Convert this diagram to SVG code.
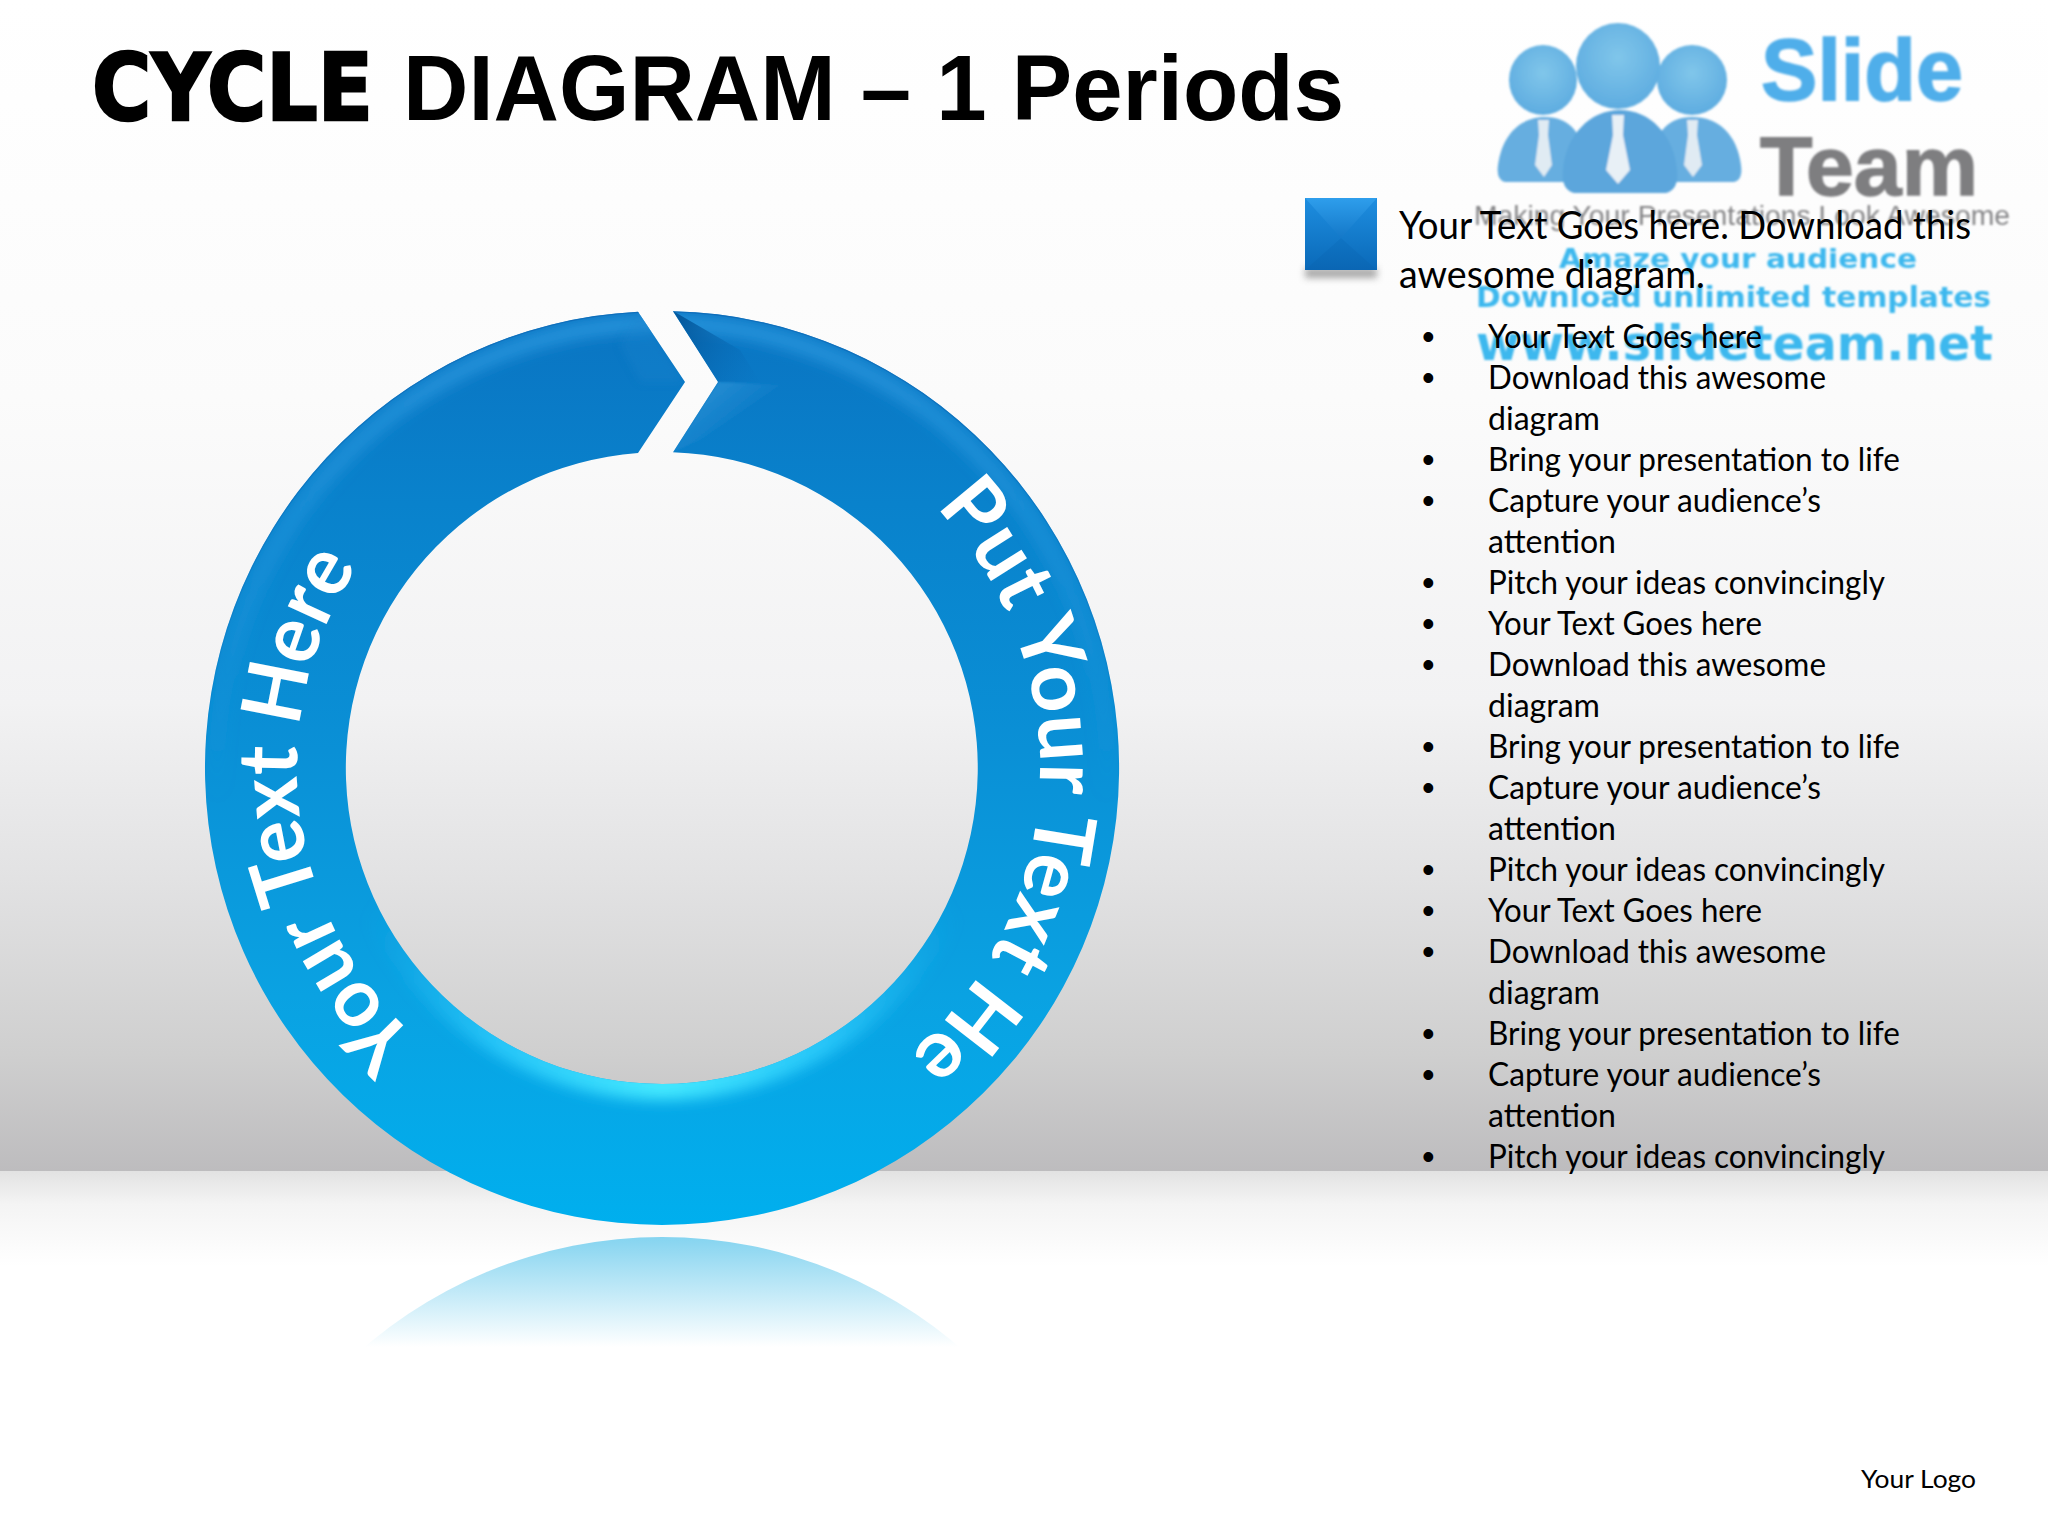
<svg xmlns="http://www.w3.org/2000/svg" width="2048" height="1536" viewBox="0 0 2048 1536">
<style>
.h{font-family:"Lato","Liberation Sans",sans-serif;font-size:38px;fill:#000}
.b{font-family:"Lato","Liberation Sans",sans-serif;font-size:32px;fill:#000}
.d{font-family:"Liberation Sans",sans-serif;font-size:36px;fill:#000}
.t{font-family:"Lato","Liberation Sans",sans-serif;font-weight:700;font-size:83px;fill:#fff}
.w{font-family:"DejaVu Sans",sans-serif;font-weight:700;fill:#3CB8EE}
.g{font-family:"Liberation Sans",sans-serif;fill:#848486}
</style>
<defs>
<linearGradient id="bg" x1="0" y1="0" x2="0" y2="1"><stop offset="0" stop-color="#fff"/><stop offset="0.34" stop-color="#FBFBFB"/><stop offset="0.6" stop-color="#F2F2F3"/><stop offset="0.75" stop-color="#E2E2E3"/><stop offset="0.9" stop-color="#CFCFCF"/><stop offset="1" stop-color="#BDBCBE"/></linearGradient>
<linearGradient id="fl" x1="0" y1="0" x2="0" y2="1"><stop offset="0" stop-color="#E2E2E2"/><stop offset="0.35" stop-color="#F4F4F4"/><stop offset="1" stop-color="#fff"/></linearGradient>
<linearGradient id="ring" gradientUnits="userSpaceOnUse" x1="0" y1="311" x2="0" y2="1225"><stop offset="0" stop-color="#0A74C2"/><stop offset="0.21" stop-color="#0982CC"/><stop offset="0.48" stop-color="#0A90D6"/><stop offset="0.75" stop-color="#0AA2E2"/><stop offset="1" stop-color="#00AFEE"/></linearGradient>
<linearGradient id="refl" gradientUnits="userSpaceOnUse" x1="0" y1="1237" x2="0" y2="1347"><stop offset="0" stop-color="#85D4F0"/><stop offset="1" stop-color="#85D4F0" stop-opacity="0"/></linearGradient>
<linearGradient id="sq" x1="0" y1="0" x2="0" y2="1"><stop offset="0" stop-color="#1E8EE0"/><stop offset="1" stop-color="#0A69B8"/></linearGradient>
<linearGradient id="sqt" x1="0" y1="0" x2="0" y2="1"><stop offset="0" stop-color="#2E9EEC"/><stop offset="1" stop-color="#1478C8"/></linearGradient>
<linearGradient id="sqb" x1="0" y1="0" x2="0" y2="1"><stop offset="0" stop-color="#0F74C4"/><stop offset="1" stop-color="#0A66B4"/></linearGradient>
<linearGradient id="dk" gradientUnits="userSpaceOnUse" x1="680" y1="320" x2="770" y2="370"><stop offset="0" stop-color="#055A9E"/><stop offset="1" stop-color="#0A70BE" stop-opacity="0"/></linearGradient>
<linearGradient id="lt" gradientUnits="userSpaceOnUse" x1="720" y1="390" x2="760" y2="440"><stop offset="0" stop-color="#2A90D4" stop-opacity="0.7"/><stop offset="1" stop-color="#0A78C6" stop-opacity="0"/></linearGradient>
<radialGradient id="glow" gradientUnits="userSpaceOnUse" cx="662" cy="1084" r="340"><stop offset="0" stop-color="#45EAFF"/><stop offset="0.5" stop-color="#30D0FF" stop-opacity="0.75"/><stop offset="1" stop-color="#20B8F0" stop-opacity="0"/></radialGradient>
<linearGradient id="rim" gradientUnits="userSpaceOnUse" x1="0" y1="311" x2="0" y2="800"><stop offset="0" stop-color="#2E9CE2" stop-opacity="0.8"/><stop offset="1" stop-color="#2E9CE2" stop-opacity="0"/></linearGradient>
<linearGradient id="rim2" gradientUnits="userSpaceOnUse" x1="0" y1="311" x2="0" y2="800"><stop offset="0" stop-color="#0A62B0" stop-opacity="0.6"/><stop offset="1" stop-color="#0A62B0" stop-opacity="0"/></linearGradient>
<radialGradient id="hd" cx="0.5" cy="0.4" r="0.6"><stop offset="0" stop-color="#80C6EA"/><stop offset="1" stop-color="#5EACE0"/></radialGradient>
<filter id="bl" x="-20%" y="-20%" width="140%" height="140%"><feGaussianBlur stdDeviation="1.3"/></filter>
<filter id="bl2" x="-20%" y="-20%" width="140%" height="140%"><feGaussianBlur stdDeviation="4"/></filter>
<filter id="bl6" filterUnits="userSpaceOnUse" x="150" y="250" width="1020" height="1030"><feGaussianBlur stdDeviation="7"/></filter>
<filter id="bl3" x="-20%" y="-100%" width="140%" height="300%"><feGaussianBlur stdDeviation="3.5"/></filter>
<clipPath id="rc"><path d="M673,311.13A457,457 0 0 1 662,1225A457,457 0 0 1 638,311.63L685,382L638,452.9A316,316 0 0 0 662,1084A316,316 0 0 0 673,452.2L718,382Z"/></clipPath>
<clipPath id="rf"><circle cx="662" cy="1694" r="457"/></clipPath>
<path id="pl" d="M 417.8 1039.2 A 365 365 0 0 1 374.4 543.3" fill="none"/>
<path id="pr" d="M 935.7 507.3 A 378 378 0 0 1 878.8 1077.6" fill="none"/>
</defs>
<g id="background">
<rect width="2048" height="1171" fill="url(#bg)"/>
<rect y="1171" width="2048" height="95" fill="url(#fl)"/>
<rect y="1266" width="2048" height="270" fill="#fff"/>
</g>
<g id="logo" filter="url(#bl)">
<ellipse cx="1543" cy="80" rx="34" ry="35" fill="url(#hd)"/>
<ellipse cx="1692" cy="80" rx="35" ry="35" fill="url(#hd)"/>
<ellipse cx="1618" cy="66" rx="42" ry="43" fill="url(#hd)"/>
<path d="M1505,182Q1496,180 1498,165C1502,135 1520,117 1545,117C1570,117 1585,135 1585,165L1585,182Z" fill="#66AEE0"/>
<path d="M1734,182Q1743,180 1741,165C1737,135 1719,117 1692,117C1667,117 1652,135 1652,165L1652,182Z" fill="#66AEE0"/>
<path d="M1574,193Q1561,190 1563,170C1566,135 1590,110 1620,110C1650,110 1674,135 1677,170Q1679,190 1666,193Z" fill="#5CA6DC"/>
<path d="M1612,115H1624L1623,135L1630,170L1618,184L1606,170L1613,135Z" fill="#E8F0F6"/>
<path d="M1538,120H1549L1548,135L1552,165L1544,177L1535,165L1539,135Z" fill="#E0EBF3"/>
<path d="M1687,120H1698L1697,135L1702,165L1693,177L1684,165L1688,135Z" fill="#E0EBF3"/>
<text x="1761" y="100" font-family="Liberation Sans,sans-serif" font-weight="700" font-size="88" fill="#50AEEA" stroke="#50AEEA" stroke-width="1.5" textLength="202" lengthAdjust="spacingAndGlyphs">Slide</text>
<text x="1760" y="195" font-family="Liberation Sans,sans-serif" font-weight="700" font-size="84" fill="#7E7E80" stroke="#7E7E80" stroke-width="1.5" textLength="218" lengthAdjust="spacingAndGlyphs">Team</text>
<text class="g" x="1474" y="225" font-size="28" textLength="536" lengthAdjust="spacingAndGlyphs">Making Your Presentations Look Awesome</text>
<text class="w" x="1559" y="268" font-size="27" textLength="358" lengthAdjust="spacingAndGlyphs">Amaze your audience</text>
<text class="w" x="1476" y="307" font-size="29" textLength="515" lengthAdjust="spacingAndGlyphs">Download unlimited templates</text>
<text class="w" x="1476" y="360" font-size="48" textLength="517" lengthAdjust="spacingAndGlyphs">www.slideteam.net</text>
</g>
<g id="title">
<text x="92" y="120" font-family="DejaVu Sans,sans-serif" font-weight="700" font-size="93" fill="#000" stroke="#000" stroke-width="2.5" textLength="281" lengthAdjust="spacingAndGlyphs">CYCLE</text>
<text x="403" y="120" font-family="Liberation Sans,sans-serif" font-weight="700" font-size="92" fill="#000" textLength="941" lengthAdjust="spacingAndGlyphs">DIAGRAM – 1 Periods</text>
</g>
<g id="reflection">
<rect x="340" y="1237" width="650" height="110" fill="url(#refl)" clip-path="url(#rf)"/>
</g>
<g id="ring-shape">
<path d="M673,311.13A457,457 0 0 1 662,1225A457,457 0 0 1 638,311.63L685,382L638,452.9A316,316 0 0 0 662,1084A316,316 0 0 0 673,452.2L718,382Z" fill="url(#ring)"/>
<g clip-path="url(#rc)">
<circle cx="662" cy="768" r="318" fill="none" stroke="url(#glow)" stroke-width="28" filter="url(#bl6)"/>
<circle cx="662" cy="768" r="445" fill="none" stroke="url(#rim)" stroke-width="16" filter="url(#bl6)"/>
<circle cx="662" cy="768" r="456.5" fill="none" stroke="url(#rim2)" stroke-width="1.5"/>
<polygon points="673,311 718,382 760,382 740,350" fill="url(#dk)"/>
<polygon points="718,382 673,452 700,440 780,385" fill="url(#lt)" filter="url(#bl)"/>
<polygon points="638,311 685,382 640,382 620,345" fill="#1A84CE" opacity="0.35" filter="url(#bl2)"/>
</g>
</g>
<g id="ring-labels">
<text class="t"><textPath href="#pl" textLength="519" lengthAdjust="spacingAndGlyphs">Your Text Here</textPath></text>
<text class="t"><textPath href="#pr" textLength="612" lengthAdjust="spacingAndGlyphs">Put Your Text He</textPath></text>
</g>
<g id="legend-box">
<rect x="1305" y="268" width="72" height="10" fill="#555" opacity="0.5" filter="url(#bl3)"/>
<rect x="1305" y="198" width="72" height="72" fill="url(#sq)"/>
<polygon points="1305,198 1377,198 1341,238" fill="url(#sqt)"/>
<polygon points="1305,270 1377,270 1341,238" fill="url(#sqb)"/>
</g>
<g id="legend-text">
<text class="h" x="1399" y="239" textLength="572" lengthAdjust="spacingAndGlyphs">Your Text Goes here. Download this</text>
<text class="h" x="1399" y="288" textLength="306" lengthAdjust="spacingAndGlyphs">awesome diagram.</text>
</g>
<g id="bullets">
<text class="d" x="1422" y="349">•</text>
<text class="b" x="1488" y="348" textLength="274" lengthAdjust="spacingAndGlyphs">Your Text Goes here</text>
<text class="d" x="1422" y="390">•</text>
<text class="b" x="1488" y="389" textLength="338" lengthAdjust="spacingAndGlyphs">Download this awesome</text>
<text class="b" x="1488" y="430" textLength="112" lengthAdjust="spacingAndGlyphs">diagram</text>
<text class="d" x="1422" y="472">•</text>
<text class="b" x="1488" y="471" textLength="412" lengthAdjust="spacingAndGlyphs">Bring your presentation to life</text>
<text class="d" x="1422" y="513">•</text>
<text class="b" x="1488" y="512" textLength="333" lengthAdjust="spacingAndGlyphs">Capture your audience’s</text>
<text class="b" x="1488" y="553" textLength="128" lengthAdjust="spacingAndGlyphs">attention</text>
<text class="d" x="1422" y="595">•</text>
<text class="b" x="1488" y="594" textLength="397" lengthAdjust="spacingAndGlyphs">Pitch your ideas convincingly</text>
<text class="d" x="1422" y="636">•</text>
<text class="b" x="1488" y="635" textLength="274" lengthAdjust="spacingAndGlyphs">Your Text Goes here</text>
<text class="d" x="1422" y="677">•</text>
<text class="b" x="1488" y="676" textLength="338" lengthAdjust="spacingAndGlyphs">Download this awesome</text>
<text class="b" x="1488" y="717" textLength="112" lengthAdjust="spacingAndGlyphs">diagram</text>
<text class="d" x="1422" y="759">•</text>
<text class="b" x="1488" y="758" textLength="412" lengthAdjust="spacingAndGlyphs">Bring your presentation to life</text>
<text class="d" x="1422" y="800">•</text>
<text class="b" x="1488" y="799" textLength="333" lengthAdjust="spacingAndGlyphs">Capture your audience’s</text>
<text class="b" x="1488" y="840" textLength="128" lengthAdjust="spacingAndGlyphs">attention</text>
<text class="d" x="1422" y="882">•</text>
<text class="b" x="1488" y="881" textLength="397" lengthAdjust="spacingAndGlyphs">Pitch your ideas convincingly</text>
<text class="d" x="1422" y="923">•</text>
<text class="b" x="1488" y="922" textLength="274" lengthAdjust="spacingAndGlyphs">Your Text Goes here</text>
<text class="d" x="1422" y="964">•</text>
<text class="b" x="1488" y="963" textLength="338" lengthAdjust="spacingAndGlyphs">Download this awesome</text>
<text class="b" x="1488" y="1004" textLength="112" lengthAdjust="spacingAndGlyphs">diagram</text>
<text class="d" x="1422" y="1046">•</text>
<text class="b" x="1488" y="1045" textLength="412" lengthAdjust="spacingAndGlyphs">Bring your presentation to life</text>
<text class="d" x="1422" y="1087">•</text>
<text class="b" x="1488" y="1086" textLength="333" lengthAdjust="spacingAndGlyphs">Capture your audience’s</text>
<text class="b" x="1488" y="1127" textLength="128" lengthAdjust="spacingAndGlyphs">attention</text>
<text class="d" x="1422" y="1169">•</text>
<text class="b" x="1488" y="1168" textLength="397" lengthAdjust="spacingAndGlyphs">Pitch your ideas convincingly</text>
</g>
<g id="your-logo">
<text x="1861" y="1488" font-family="Lato,Liberation Sans,sans-serif" font-size="25" fill="#000" textLength="115" lengthAdjust="spacingAndGlyphs">Your Logo</text>
</g>
</svg>
